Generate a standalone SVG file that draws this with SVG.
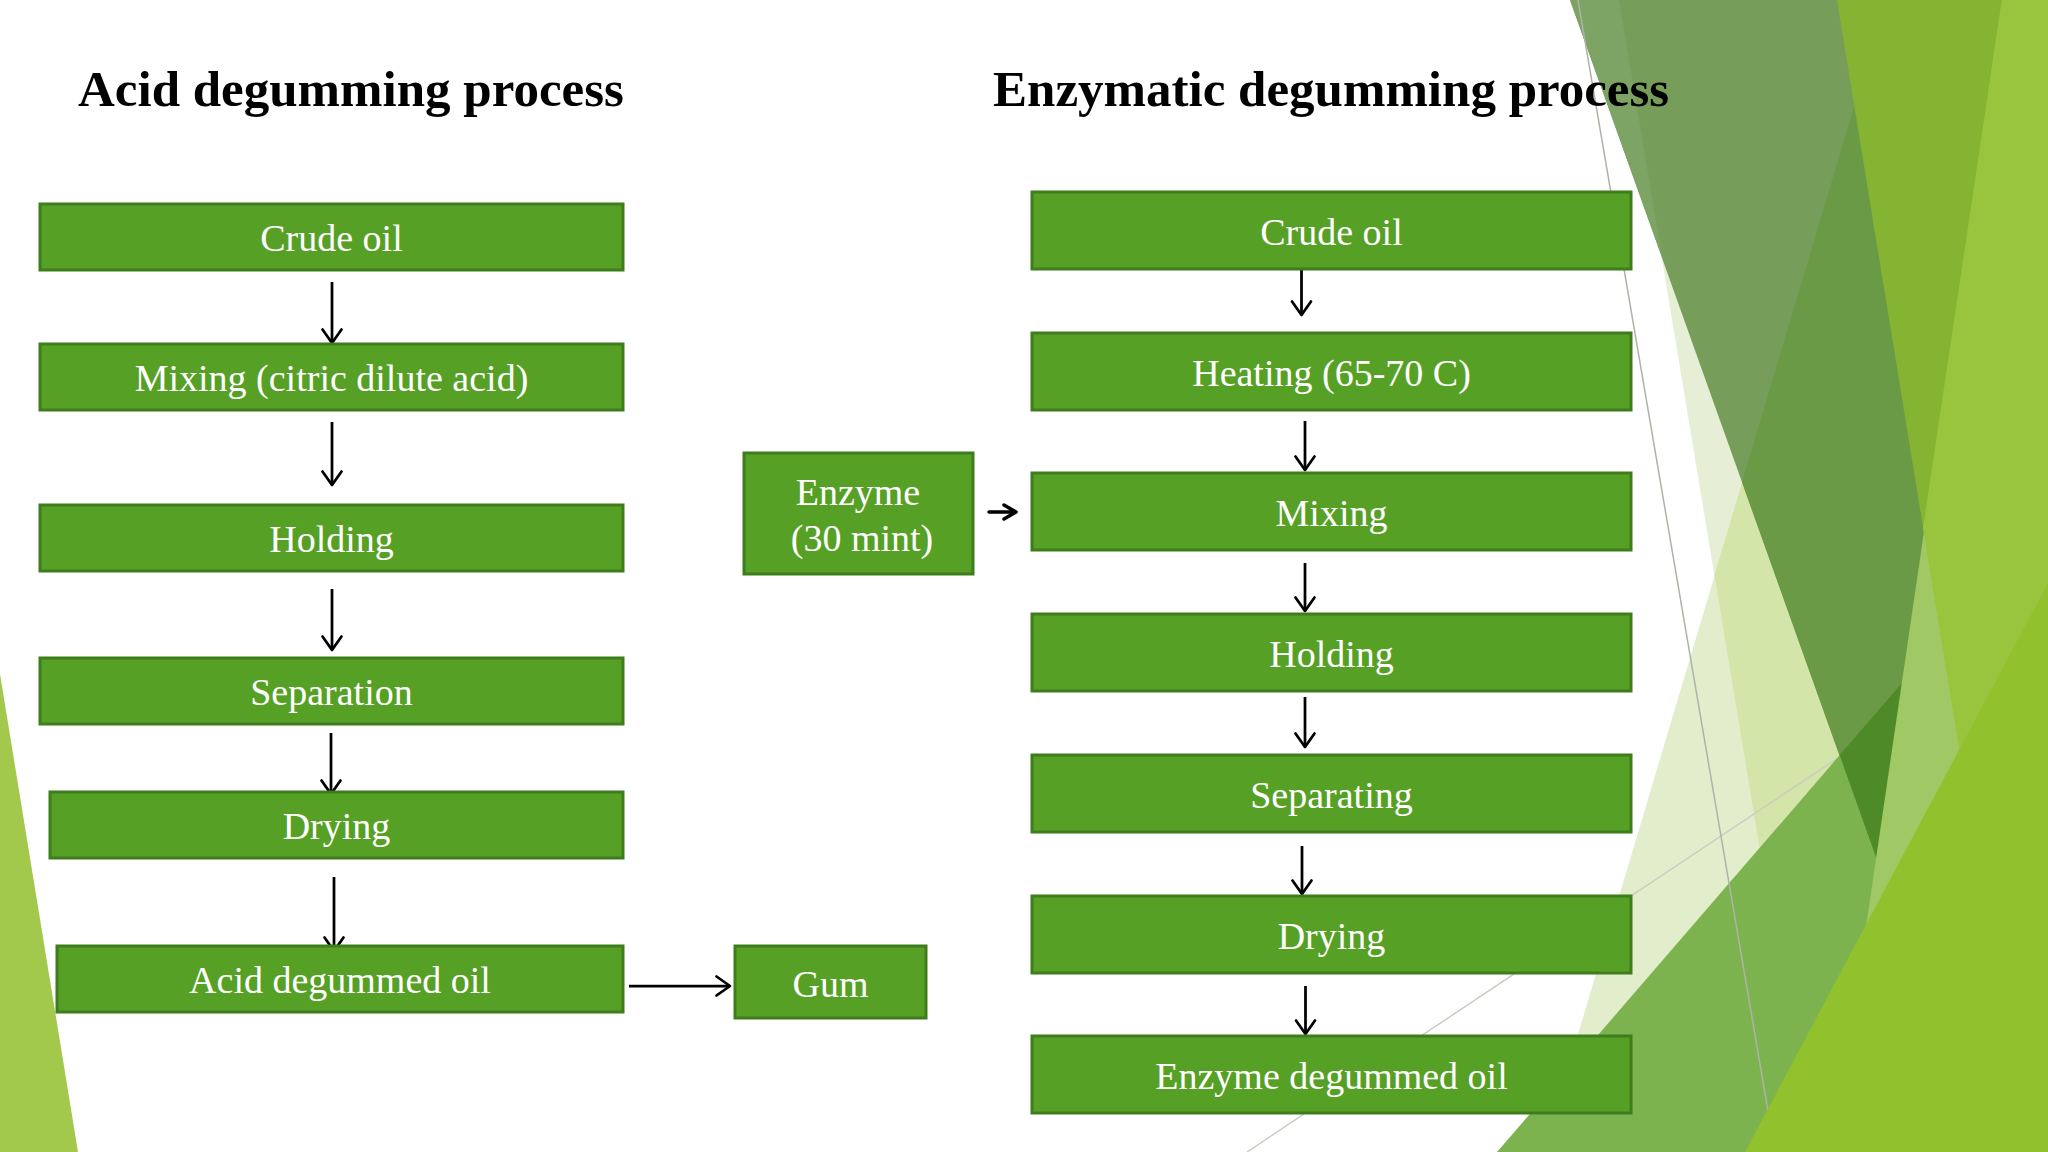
<svg xmlns="http://www.w3.org/2000/svg" width="2048" height="1152" viewBox="0 0 2048 1152">
<defs>
<style>
.box{fill:#56a125;stroke:#3f7c1d;stroke-width:3}
.lbl{font-family:"Liberation Serif","Times New Roman",serif;font-size:38px;fill:#ffffff;text-anchor:middle}
.title{font-family:"Liberation Serif","Times New Roman",serif;font-size:51px;font-weight:bold;fill:#000000}
.arrow{fill:none;stroke:#000000;stroke-width:2.75}
.thin{fill:none;stroke-width:1.5}
</style>
<marker id="chev" viewBox="-16 -12 18 24" markerWidth="18" markerHeight="24" refX="0" refY="0" orient="auto" markerUnits="userSpaceOnUse" overflow="visible">
<path d="M-13.5,-9.5 L0,0 L-13.5,9.5" fill="none" stroke="#000000" stroke-width="2.75" stroke-linejoin="round" stroke-linecap="round"/>
</marker>
</defs>
<rect x="0" y="0" width="2048" height="1152" fill="#ffffff"/>
<g id="background">
<polygon points="0,674 78,1152 0,1152" fill="#a2c94b"/>
<polygon points="1619,0 2048,0 2048,1152 1810,1152" fill="#e6efd5"/>
<polygon points="1886,0 2048,0 2048,1152 1543,1152" fill="#e2edcc"/>
<polygon points="1886,0 2048,0 2048,1152 1810,1152 1714.5,575" fill="#d3e5a8"/>
<line class="thin" x1="1247" y1="1152" x2="2048" y2="618" stroke="#c8cec0"/>
<polygon points="1570,0 2048,0 2048,1152 1981,1152" fill="#779d5a"/>
<polygon points="1570,0 1619,0 1662,257" fill="#7ea465"/>
<polygon points="1886,0 2048,0 2048,1152 1981,1152 1742,482" fill="#6a9a45"/>
<polygon points="1497,1152 2048,514 2048,1152" fill="#7cb34f"/>
<polygon points="1839.6,755 2048,514 2048,1152 1981,1152" fill="#4f8a28"/>
<line class="thin" x1="1578" y1="0" x2="1775" y2="1152" stroke="#aeb3a8"/>
<polygon points="1837,0 2048,0 2048,1152 2025,1152" fill="#84b431"/>
<polygon points="2002,0 2048,0 2048,1152 1833,1152" fill="#a0c864"/>
<polygon points="2002,0 2048,0 2048,1152 2025,1152 1923,528" fill="#99c53e"/>
<polygon points="1745,1152 2048,583 2048,1152" fill="#91c12d"/>
</g>
<g id="titles">
<text class="title" x="78" y="106">Acid degumming process</text>
<text class="title" x="993" y="106">Enzymatic degumming process</text>
</g>
<g id="connectors">
<path class="arrow" d="M332,282 V343" marker-end="url(#chev)"/>
<path class="arrow" d="M332,422 V485" marker-end="url(#chev)"/>
<path class="arrow" d="M332,589 V650" marker-end="url(#chev)"/>
<path class="arrow" d="M331,733 V794" marker-end="url(#chev)"/>
<path class="arrow" d="M334,877 V951" marker-end="url(#chev)"/>
<path class="arrow" d="M629,986 H730" marker-end="url(#chev)"/>
<path class="arrow" d="M1301.5,266 V315" marker-end="url(#chev)"/>
<path class="arrow" d="M1305,421 V470" marker-end="url(#chev)"/>
<path class="arrow" d="M1305,563 V611" marker-end="url(#chev)"/>
<path class="arrow" d="M1305,697 V747" marker-end="url(#chev)"/>
<path class="arrow" d="M1302,846 V894" marker-end="url(#chev)"/>
<path class="arrow" d="M1305.5,986 V1034" marker-end="url(#chev)"/>
<path d="M989,512 H1015 M1004,505 L1016,512 L1004,519" fill="none" stroke="#000000" stroke-width="3.5" stroke-linecap="round" stroke-linejoin="round"/>
</g>
<g id="acid-crude-oil"><rect class="box" x="40" y="204" width="583" height="66"/><text class="lbl" x="331.5" y="251">Crude oil</text></g>
<g id="acid-mixing"><rect class="box" x="40" y="344" width="583" height="66"/><text class="lbl" x="331.5" y="391">Mixing (citric dilute acid)</text></g>
<g id="acid-holding"><rect class="box" x="40" y="505" width="583" height="66"/><text class="lbl" x="331.5" y="552">Holding</text></g>
<g id="acid-separation"><rect class="box" x="40" y="658" width="583" height="66"/><text class="lbl" x="331.5" y="705">Separation</text></g>
<g id="acid-drying"><rect class="box" x="50" y="792" width="573" height="66"/><text class="lbl" x="336.5" y="839">Drying</text></g>
<g id="acid-degummed-oil"><rect class="box" x="57" y="946" width="566" height="66"/><text class="lbl" x="340" y="993">Acid degummed oil</text></g>
<g id="gum"><rect class="box" x="735" y="946" width="191" height="72"/><text class="lbl" x="830.5" y="997">Gum</text></g>
<g id="enzyme"><rect class="box" x="744" y="453" width="229" height="121"/><text class="lbl" x="858" y="505">Enzyme</text><text class="lbl" x="862" y="551">(30 mint)</text></g>
<g id="enz-crude-oil"><rect class="box" x="1032" y="192" width="599" height="77"/><text class="lbl" x="1331.5" y="245">Crude oil</text></g>
<g id="enz-heating"><rect class="box" x="1032" y="333" width="599" height="77"/><text class="lbl" x="1331.5" y="386">Heating (65-70 C)</text></g>
<g id="enz-mixing"><rect class="box" x="1032" y="473" width="599" height="77"/><text class="lbl" x="1331.5" y="526">Mixing</text></g>
<g id="enz-holding"><rect class="box" x="1032" y="614" width="599" height="77"/><text class="lbl" x="1331.5" y="667">Holding</text></g>
<g id="enz-separating"><rect class="box" x="1032" y="755" width="599" height="77"/><text class="lbl" x="1331.5" y="808">Separating</text></g>
<g id="enz-drying"><rect class="box" x="1032" y="896" width="599" height="77"/><text class="lbl" x="1331.5" y="949">Drying</text></g>
<g id="enz-degummed-oil"><rect class="box" x="1032" y="1036" width="599" height="77"/><text class="lbl" x="1331.5" y="1089">Enzyme degummed oil</text></g>
</svg>
